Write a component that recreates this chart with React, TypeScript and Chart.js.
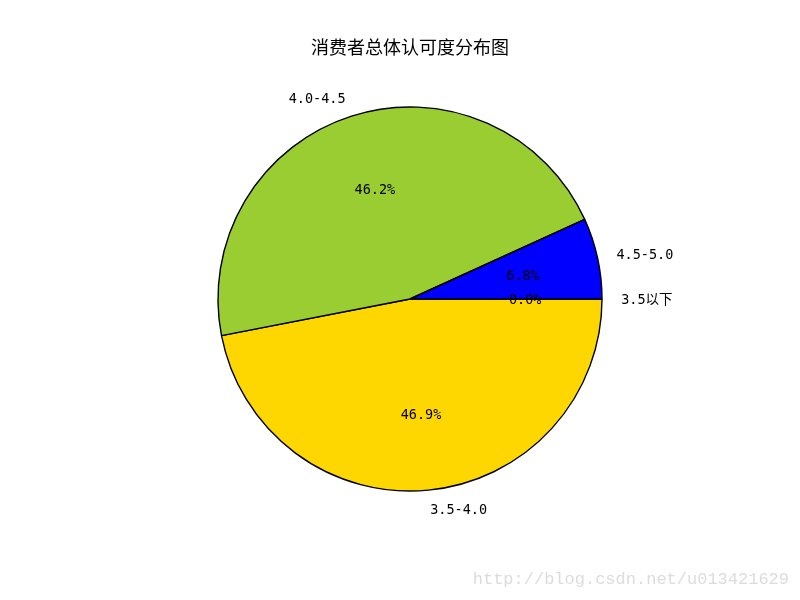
import React, { useEffect, useRef } from "react";
import { Chart, registerables } from "chart.js";

Chart.register(...registerables);

const TITLE = "消费者总体认可度分布图";
// Clockwise order starting at 3 o'clock (matplotlib draws counter-clockwise)
const categories = ["3.5-4.0", "4.0-4.5", "4.5-5.0", "3.5以下"];
const values = [46.9, 46.2, 6.8, 0.0];
const colors = ["#FFD700", "#9ACD32", "#0000FF", "#FF0000"];
const WATERMARK = "http://blog.csdn.net/u013421629";

const FONT = '"Noto Sans CJK SC", "DejaVu Sans", sans-serif';
const LABEL_FONT = '"DejaVu Sans Mono", "Noto Sans CJK SC", monospace';

const textPlugin = {
  id: "pieText",
  afterDraw(chart: any) {
    const ctx = chart.ctx;
    const meta = chart.getDatasetMeta(0);
    const data = chart.data.datasets[0].data as number[];
    const total = data.reduce((a, b) => a + b, 0);
    ctx.save();
    ctx.fillStyle = "#000";
    ctx.textBaseline = "middle";
    meta.data.forEach((arc: any, i: number) => {
      const { x, y, startAngle, endAngle, outerRadius } = arc.getProps(
        ["x", "y", "startAngle", "endAngle", "outerRadius"],
        true
      );
      const mid = (startAngle + endAngle) / 2;
      const c = Math.cos(mid);
      const s = Math.sin(mid);
      // outer label
      ctx.font = `13.5px ${LABEL_FONT}`;
      ctx.textAlign = c > 0 ? "left" : "right";
      ctx.fillText(chart.data.labels[i], x + c * outerRadius * 1.1, y + s * outerRadius * 1.1 + 1.5);
      // percent
      ctx.textAlign = "center";
      const pct = ((data[i] / total) * 100).toFixed(1) + "%";
      ctx.fillText(pct, x + c * outerRadius * 0.6, y + s * outerRadius * 0.6 + 1.5);
    });
    // title
    ctx.font = `18px ${FONT}`;
    ctx.textAlign = "center";
    ctx.fillText(TITLE, 410, 47);
    // watermark
    ctx.font = '17px "Liberation Mono", monospace';
    ctx.fillStyle = "#dcdcdc";
    ctx.textAlign = "right";
    ctx.fillText(WATERMARK, 789, 579);
    ctx.restore();
  },
};

export default function App() {
  const ref = useRef<HTMLCanvasElement>(null);
  useEffect(() => {
    document.body.style.margin = "0";
    const chart = new Chart(ref.current!, {
      type: "pie",
      data: {
        labels: categories,
        datasets: [
          {
            data: values,
            backgroundColor: colors,
            borderColor: "#000",
            borderWidth: 1.4,
            radius: 192,
          } as any,
        ],
      },
      options: {
        animation: false,
        responsive: false,
        rotation: 90,
        layout: { padding: { left: 20, right: 0, top: 0, bottom: 2 } },
        plugins: {
          legend: { display: false },
          tooltip: { enabled: false },
          title: { display: false },
        },
      },
      plugins: [textPlugin],
    });
    return () => chart.destroy();
  }, []);
  return (
    <div style={{ width: 800, height: 600, background: "#fff" }}>
      <canvas ref={ref} width={800} height={600} />
    </div>
  );
}
